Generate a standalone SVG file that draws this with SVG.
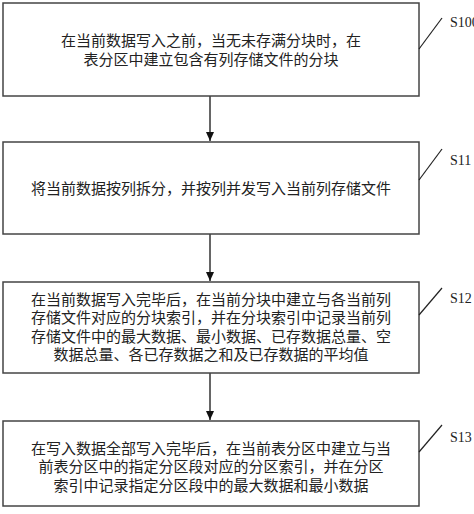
<svg xmlns="http://www.w3.org/2000/svg" width="474" height="514" viewBox="0 0 474 514">
<style>
.box{fill:#fff;stroke:#444;stroke-width:1.5}
.t{font-family:"Noto Sans CJK SC","Noto Sans",sans-serif;font-size:15px;fill:#222;text-anchor:middle}
.lbl{font-family:"Liberation Serif",serif;font-size:14px;fill:#222}
.lead{stroke:#222;stroke-width:1.2;fill:none}
.conn{stroke:#333;stroke-width:1.5;fill:none}
</style>
<defs>
<marker id="arr" markerWidth="10" markerHeight="10" refX="9" refY="5" orient="auto" markerUnits="userSpaceOnUse">
<path d="M0,1 L9,5 L0,9 Z" fill="#111"/>
</marker>
</defs>
<rect width="474" height="514" fill="#fff"/>
<g id="connectors">
<line class="conn" x1="210" y1="96" x2="210" y2="141" marker-end="url(#arr)"/>
<line class="conn" x1="210" y1="234" x2="210" y2="281" marker-end="url(#arr)"/>
<line class="conn" x1="210" y1="373" x2="210" y2="420" marker-end="url(#arr)"/>
</g>
<g id="s100">
<rect class="box" x="3" y="3" width="416" height="93"/>
<text class="t" x="211" y="46">在当前数据写入之前，当无未存满分块时，在</text>
<text class="t" x="211" y="64.5">表分区中建立包含有列存储文件的分块</text>
<line class="lead" x1="419" y1="49" x2="442" y2="18"/>
<text class="lbl" x="450" y="27">S100</text>
</g>
<g id="s11">
<rect class="box" x="3" y="142" width="416" height="92"/>
<text class="t" x="211" y="193.5">将当前数据按列拆分，并按列并发写入当前列存储文件</text>
<line class="lead" x1="419" y1="180" x2="442" y2="149"/>
<text class="lbl" x="450" y="165">S11</text>
</g>
<g id="s12">
<rect class="box" x="3" y="282" width="416" height="91"/>
<text class="t" x="211" y="304.5">在当前数据写入完毕后，在当前分块中建立与各当前列</text>
<text class="t" x="211" y="323">存储文件对应的分块索引，并在分块索引中记录当前列</text>
<text class="t" x="211" y="341.5">存储文件中的最大数据、最小数据、已存数据总量、空</text>
<text class="t" x="211" y="360">数据总量、各已存数据之和及已存数据的平均值</text>
<line class="lead" x1="419" y1="315" x2="442" y2="288"/>
<text class="lbl" x="450" y="303">S12</text>
</g>
<g id="s13">
<rect class="box" x="3" y="421" width="416" height="85"/>
<text class="t" x="211" y="453.5">在写入数据全部写入完毕后，在当前表分区中建立与当</text>
<text class="t" x="211" y="472">前表分区中的指定分区段对应的分区索引，并在分区</text>
<text class="t" x="211" y="490.5">索引中记录指定分区段中的最大数据和最小数据</text>
<line class="lead" x1="419" y1="452" x2="442" y2="425"/>
<text class="lbl" x="450" y="442">S13</text>
</g>
</svg>
